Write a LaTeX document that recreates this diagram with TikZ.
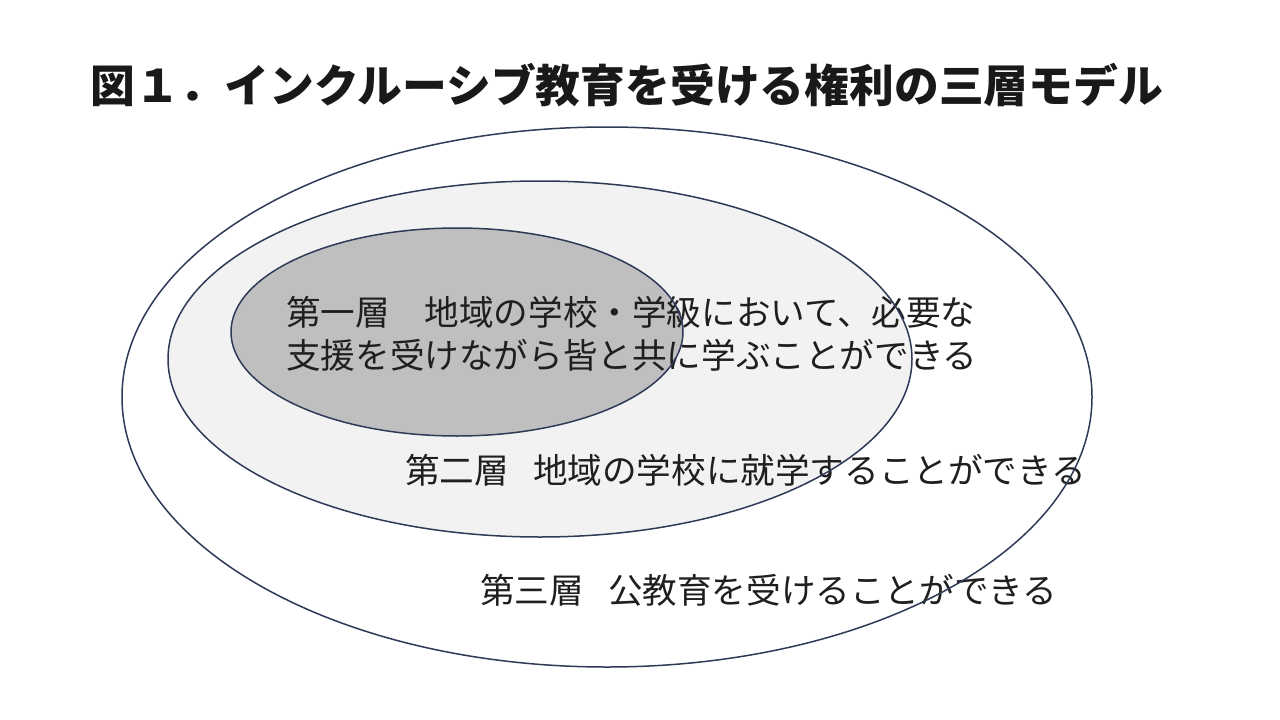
\documentclass[tikz,border=0pt]{standalone}
\usepackage{fontspec}
\setmainfont{Noto Sans CJK JP}
\begin{document}
\begin{tikzpicture}[x=1pt,y=-1pt,
  ring/.style={draw=edgecol,line width=1.5pt},
  lbl/.style={anchor=west,inner sep=0pt,font=\fontsize{34.6}{40}\selectfont,text=black!88}]
\definecolor{edgecol}{HTML}{2E3A56}
\definecolor{midfill}{HTML}{F2F2F2}
\definecolor{innfill}{HTML}{BFBFBF}
\useasboundingbox[fill=white] (0,0) rectangle (1280,720);
% fills
\fill[white] (607,397) ellipse [x radius=485pt, y radius=270pt];
\fill[midfill] (540,359) ellipse [x radius=372pt, y radius=178pt];
\fill[innfill] (457,332) ellipse [x radius=226pt, y radius=104pt];
% title
\node[anchor=west,inner sep=0pt,font=\fontsize{44.8}{50}\selectfont\bfseries,text=black!90] (title) at (90,85) {図１．インクルーシブ教育を受ける権利の三層モデル};
% labels
\node[lbl] (l1a) at (286,312) {第一層　地域の学校・学級において、必要な};
\node[lbl] (l1b) at (286,355) {支援を受けながら皆と共に学ぶことができる};
\node[lbl] (l2) at (405,470) {第二層\hspace{0.7em}地域の学校に就学することができる};
\node[lbl] (l3) at (480,590) {第三層\hspace{0.7em}公教育を受けることができる};
% outlines
\draw[ring] (607,397) ellipse [x radius=485pt, y radius=270pt];
\draw[ring] (540,359) ellipse [x radius=372pt, y radius=178pt];
\draw[ring] (457,332) ellipse [x radius=226pt, y radius=104pt];
\end{tikzpicture}
\end{document}
